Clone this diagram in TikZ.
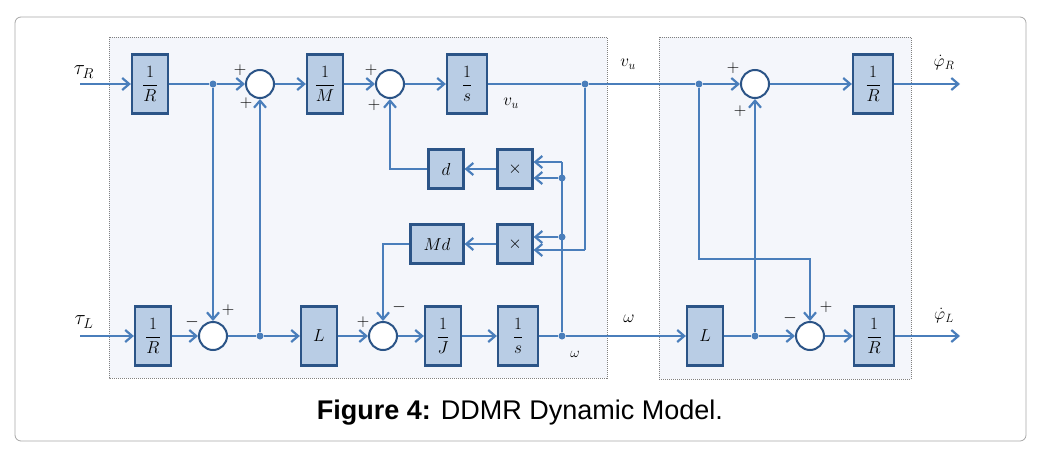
\documentclass[tikz,border=0pt]{standalone}
\usepackage{fontspec}
\newfontfamily\capfont{Liberation Sans}
\usetikzlibrary{arrows.meta,calc}
\definecolor{ln}{HTML}{4A7EBB}
\definecolor{bf}{HTML}{B9CDE5}
\definecolor{bd}{HTML}{2B5487}
\definecolor{pan}{HTML}{F4F6FB}
\begin{document}
\begin{tikzpicture}[x=1pt,y=-1pt,
  blk/.style={draw=bd,fill=bf,line width=2.2pt,minimum width=36pt,minimum height=59pt,inner sep=0pt,font=\fontsize{18}{18}\selectfont},
  sblk/.style={blk,minimum height=39pt},
  sum/.style={circle,draw=bd,fill=white,line width=2pt,minimum size=28pt,inner sep=0pt},
  dot/.style={circle,fill=ln,inner sep=0pt,minimum size=7pt},
  sig/.style={font=\fontsize{19}{19}\selectfont,inner sep=0pt},
  lab/.style={font=\fontsize{17}{17}\selectfont,inner sep=0pt},
  ar/.style={-{Straight Barb[length=7pt,width=12pt,line width=2.2pt]}},
  wire/.style={draw=ln,line width=2.7pt}]
\useasboundingbox (0,0) rectangle (1041,458);
\draw[gray!70,rounded corners=6pt,line width=0.8pt] (15,17) rectangle (1026,441);
\draw[gray,densely dotted,fill=pan,line width=1pt] (109,37) rectangle (607,378);
\draw[gray,densely dotted,fill=pan,line width=1pt] (659,37) rectangle (911,379);
% nodes
\coordinate (tR) at (80,84);
\coordinate (tL) at (80,336);
\node[blk] (R1) at (150,84) {$\displaystyle\frac{1}{R}$};
\node[sum] (S1) at (260,84) {};
\node[blk] (M1) at (325,84) {$\displaystyle\frac{1}{M}$};
\node[sum] (S2) at (390,84) {};
\node[blk,minimum width=40pt] (I1) at (467,84) {$\displaystyle\frac{1}{s}$};
\node[blk] (R2) at (153,336) {$\displaystyle\frac{1}{R}$};
\node[sum] (S3) at (213,336) {};
\node[blk] (L1) at (319,336) {$L$};
\node[sum] (S4) at (383,336) {};
\node[blk] (J1) at (443,336) {$\displaystyle\frac{1}{J}$};
\node[blk,minimum width=40pt] (I2) at (518,336) {$\displaystyle\frac{1}{s}$};
\node[sblk,minimum width=35pt] (D1) at (446,169) {$d$};
\node[sblk,minimum width=35pt] (X1) at (515,169) {$\times$};
\node[sblk,minimum width=53pt] (MD) at (437,244) {$Md$};
\node[sblk,minimum width=35pt] (X2) at (515,244) {$\times$};
\node[sum] (S5) at (755,84) {};
\node[blk,minimum width=40pt] (R3) at (873,84) {$\displaystyle\frac{1}{R}$};
\node[blk] (L2) at (705,336) {$L$};
\node[sum] (S6) at (810,336) {};
\node[blk,minimum width=40pt] (R4) at (874,336) {$\displaystyle\frac{1}{R}$};
\node[dot] (d1) at (213,84) {};
\node[dot] (d2) at (585,84) {};
\node[dot] (d3) at (260,336) {};
\node[dot] (d4) at (562,336) {};
\node[dot] (d5) at (699,84) {};
\node[dot] (d6) at (755,336) {};
\node[dot] (d7) at (562,178) {};
\node[dot] (d8) at (562,237) {};
\coordinate (oR) at (960,84);
\coordinate (oL) at (960,336);
\coordinate (c1) at (562,162);
\coordinate (c2) at (585,250);
\coordinate (c3) at (699,259);
% wires
\path[wire,ar] (tR) -- (R1);
\path[wire] (R1) -- (d1);
\path[wire,ar] (d1) -- (S1);
\path[wire,ar] (d1) -- (S3);
\path[wire,ar] (S1) -- (M1);
\path[wire,ar] (M1) -- (S2);
\path[wire,ar] (S2) -- (I1);
\path[wire] (I1) -- (d2) -- (d5);
\path[wire,ar] (d5) -- (S5);
\path[wire,ar] (S5) -- (R3);
\path[wire,ar] (R3) -- (oR);
\path[wire,ar] (tL) -- (R2);
\path[wire,ar] (R2) -- (S3);
\path[wire] (S3) -- (d3);
\path[wire,ar] (d3) -- (L1);
\path[wire,ar] (d3) -- (S1);
\path[wire,ar] (L1) -- (S4);
\path[wire,ar] (S4) -- (J1);
\path[wire,ar] (J1) -- (I2);
\path[wire] (I2) -- (d4);
\path[wire,ar] (d4) -- (L2);
\path[wire] (L2) -- (d6);
\path[wire,ar] (d6) -- (S6);
\path[wire,ar] (d6) -- (S5);
\path[wire,ar] (S6) -- (R4);
\path[wire,ar] (R4) -- (oL);
\path[wire] (d4) -- (c1);
\path[wire,ar] (c1) -- (c1 -| X1.east);
\path[wire,ar] (d7) -- (d7 -| X1.east);
\path[wire,ar] (d8) -- (d8 -| X2.east);
\path[wire] (d2) -- (c2);
\path[wire,ar] (c2) -- (c2 -| X2.east);
\path[wire,ar] (X1) -- (D1);
\path[wire,ar] (X2) -- (MD);
\path[wire,ar] (D1.west) -| (S2.south);
\path[wire,ar] (MD.west) -| (S4.north);
\path[wire,ar] (d5) -- (c3) -| (S6.north);
% signs
\node[sig] at (240,70) {$+$};
\node[sig] at (246,103) {$+$};
\node[sig] at (371,70) {$+$};
\node[sig] at (374,105) {$+$};
\node[sig] at (192,322) {$-$};
\node[sig] at (228,310) {$+$};
\node[sig] at (363,322) {$+$};
\node[sig] at (399,307) {$-$};
\node[sig] at (733,68) {$+$};
\node[sig] at (740,111) {$+$};
\node[sig] at (790,318) {$-$};
\node[sig] at (826,307) {$+$};
% labels
\node[lab,font=\fontsize{22}{22}\selectfont] at (84,72) {$\tau_R$};
\node[lab,font=\fontsize{22}{22}\selectfont] at (84,322) {$\tau_L$};
\node[lab] at (511,103) {$v_u$};
\node[lab,font=\fontsize{14}{14}\selectfont] at (575,354) {$\omega$};
\node[lab] at (628,64) {$v_u$};
\node[lab] at (629,319) {$\omega$};
\node[lab] at (944,63) {$\dot{\varphi}_R$};
\node[lab] at (944,316) {$\dot{\varphi}_L$};
\node[font=\capfont\fontsize{27}{27}\selectfont,inner sep=0pt] (cap) at (520,413) {\textbf{Figure 4:} DDMR Dynamic Model.};
\end{tikzpicture}
\end{document}
